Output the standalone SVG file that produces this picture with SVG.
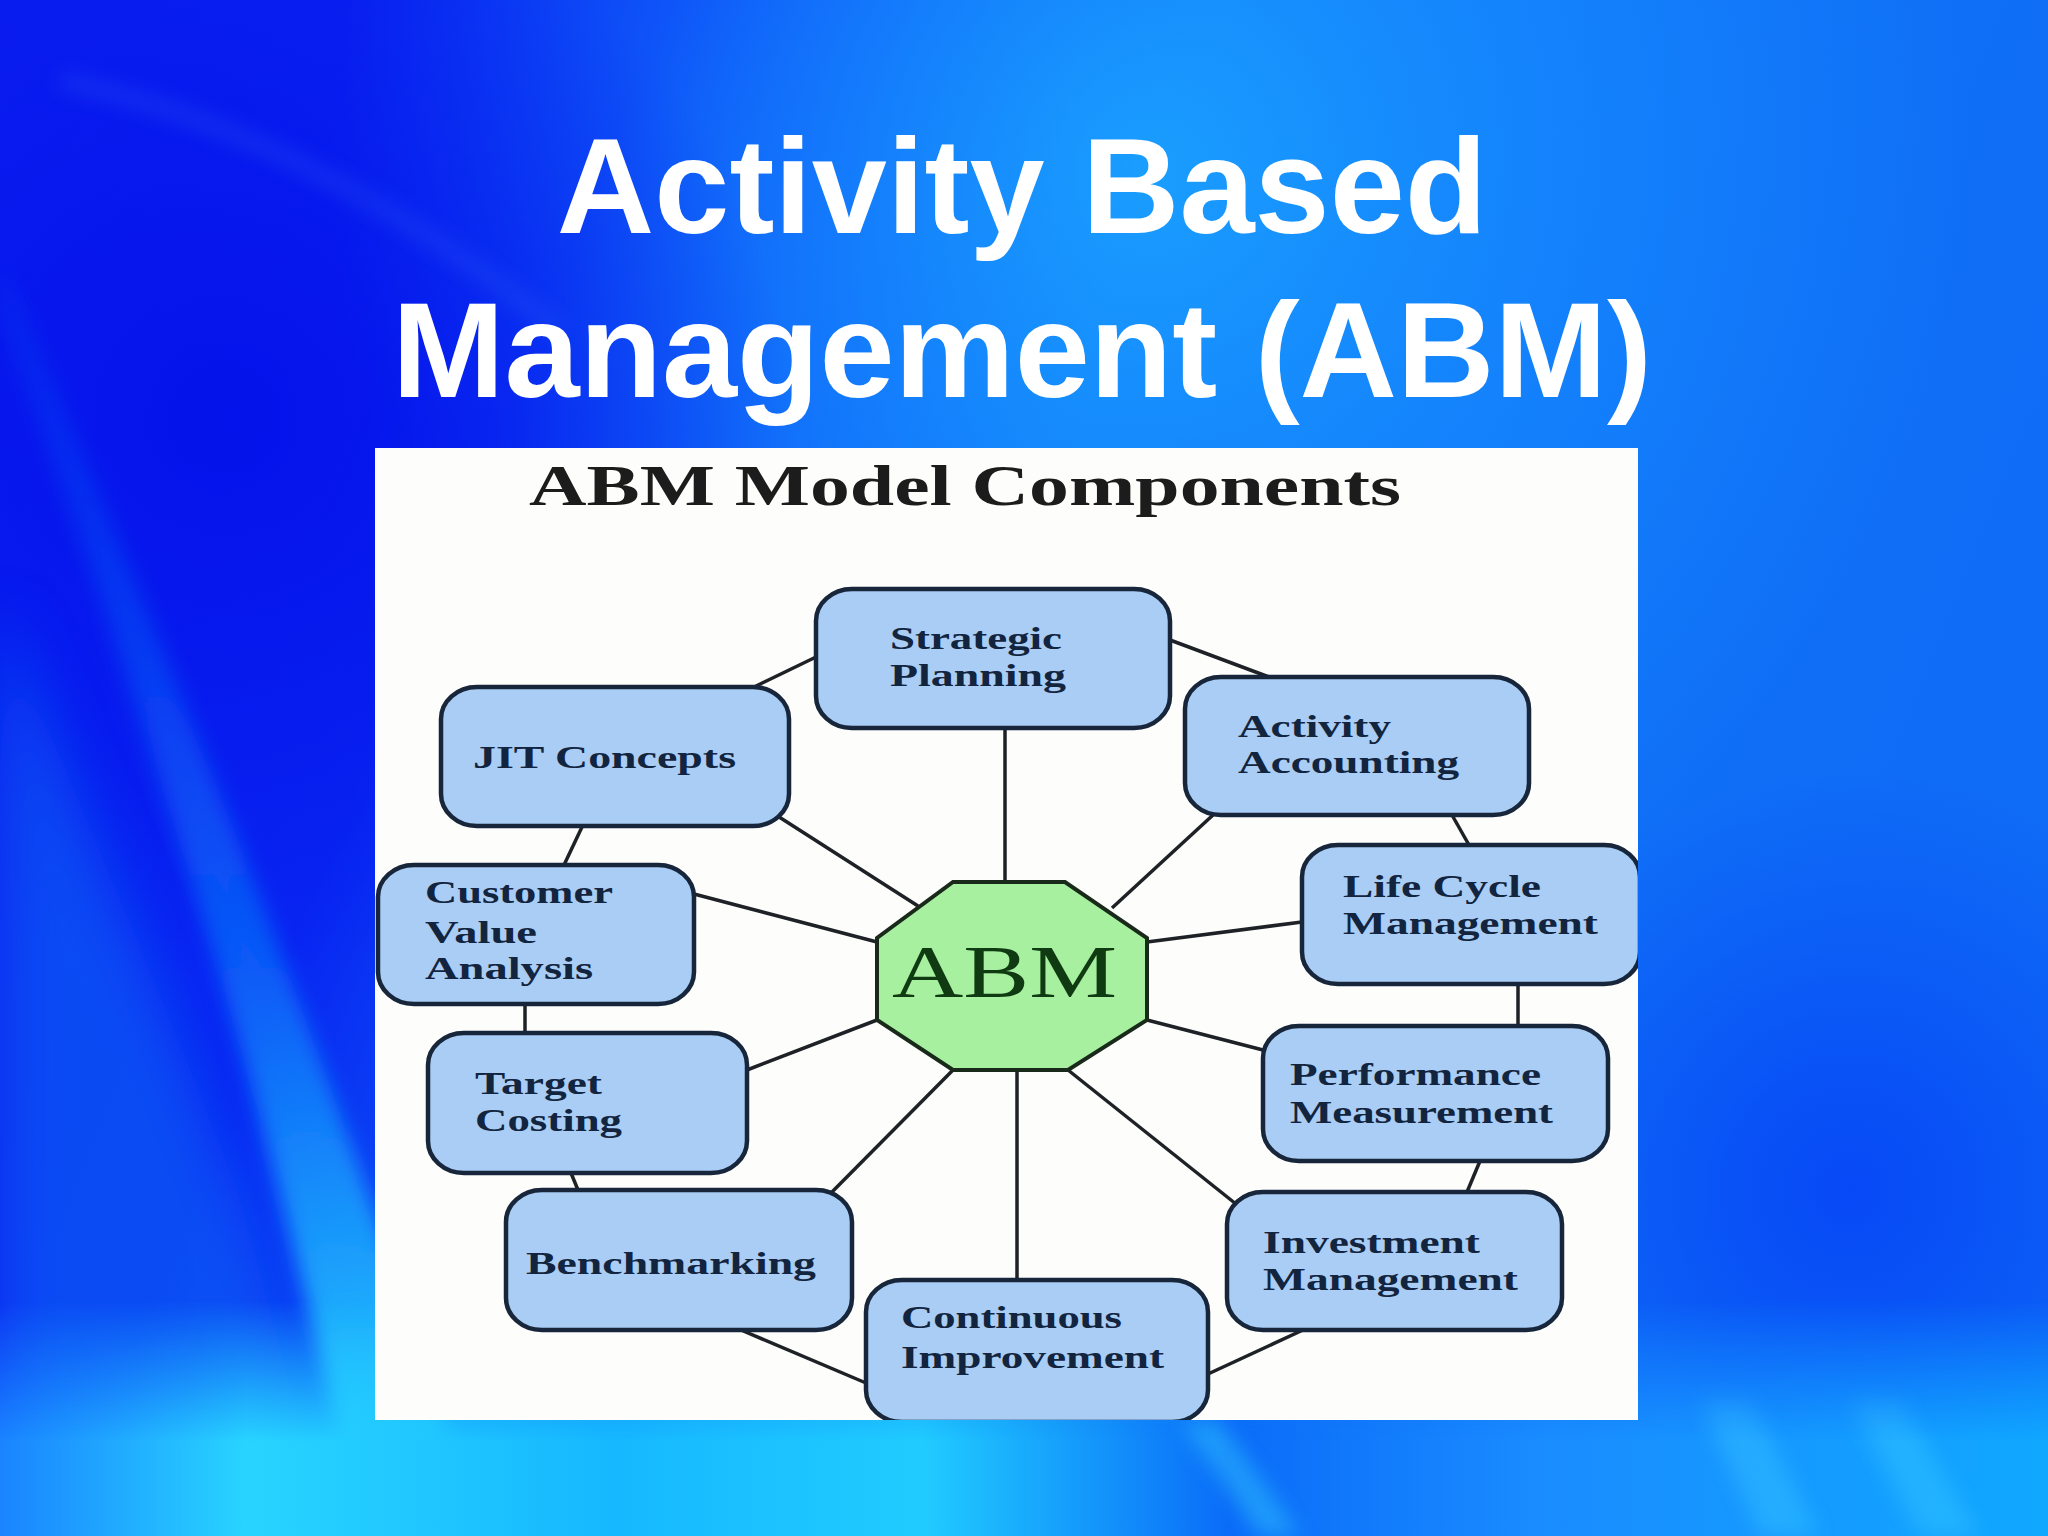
<svg xmlns="http://www.w3.org/2000/svg" width="2048" height="1536" viewBox="0 0 2048 1536">
<defs>
  <linearGradient id="bgBase" x1="0" y1="0" x2="1" y2="0.3">
    <stop offset="0" stop-color="#0a1ef0"/>
    <stop offset="0.3" stop-color="#0826f2"/>
    <stop offset="0.55" stop-color="#1178f8"/>
    <stop offset="1" stop-color="#0f6cf6"/>
  </linearGradient>
  <radialGradient id="glowTop" cx="1150" cy="170" r="820" gradientUnits="userSpaceOnUse">
    <stop offset="0" stop-color="#1aa0ff" stop-opacity="0.95"/>
    <stop offset="0.5" stop-color="#168cff" stop-opacity="0.6"/>
    <stop offset="1" stop-color="#168cff" stop-opacity="0"/>
  </radialGradient>
  <radialGradient id="darkLeft" cx="230" cy="420" r="560" gradientUnits="userSpaceOnUse">
    <stop offset="0" stop-color="#0410ea" stop-opacity="0.9"/>
    <stop offset="1" stop-color="#0410ea" stop-opacity="0"/>
  </radialGradient>
  <radialGradient id="darkRightLow" cx="1850" cy="1190" r="420" gradientUnits="userSpaceOnUse">
    <stop offset="0" stop-color="#0540f6" stop-opacity="0.8"/>
    <stop offset="1" stop-color="#0540f6" stop-opacity="0"/>
  </radialGradient>
  <linearGradient id="streak" x1="0" y1="0" x2="0" y2="1">
    <stop offset="0" stop-color="#1a7cf8" stop-opacity="0.1"/>
    <stop offset="0.55" stop-color="#10a8ff" stop-opacity="0.4"/>
    <stop offset="1" stop-color="#30e8ff" stop-opacity="0.95"/>
  </linearGradient>
  <linearGradient id="bottomBand" x1="0" y1="0" x2="1" y2="0">
    <stop offset="0" stop-color="#1a84ff"/>
    <stop offset="0.12" stop-color="#28d4ff"/>
    <stop offset="0.3" stop-color="#16b8ff"/>
    <stop offset="0.45" stop-color="#20ccff"/>
    <stop offset="0.6" stop-color="#0a6cf8"/>
    <stop offset="0.75" stop-color="#1a8cff"/>
    <stop offset="1" stop-color="#10a8ff"/>
  </linearGradient>
  <linearGradient id="fadeV" x1="0" y1="0" x2="0" y2="1">
    <stop offset="0" stop-color="#fff" stop-opacity="0"/>
    <stop offset="0.6" stop-color="#fff" stop-opacity="1"/>
    <stop offset="1" stop-color="#fff" stop-opacity="1"/>
  </linearGradient>
  <mask id="fadeBottom" maskUnits="userSpaceOnUse" x="0" y="0" width="2048" height="1536">
    <rect x="0" y="1300" width="2048" height="236" fill="url(#fadeV)"/>
  </mask>
  <filter id="blur" x="-20%" y="-20%" width="140%" height="140%">
    <feGaussianBlur stdDeviation="28"/>
  </filter>
  <filter id="blurS" x="-20%" y="-20%" width="140%" height="140%">
    <feGaussianBlur stdDeviation="10"/>
  </filter>
  <clipPath id="panelClip">
    <rect x="375" y="448" width="1263" height="972"/>
  </clipPath>
  <style>
    .title { font-family: "Liberation Sans", Arial, sans-serif; font-weight: bold; font-size: 135px; fill: #ffffff; text-anchor: middle; }
    .node rect { fill: #a9cdf4; stroke: #17263a; stroke-width: 4.5; }
    .lbl { font-family: "Liberation Serif", "Times New Roman", serif; font-weight: bold; font-size: 31px; fill: #12243e; }
    .conn line { stroke: #1e2226; stroke-width: 3.5; }
  </style>
</defs>

<!-- background -->
<g id="background">
  <rect x="0" y="0" width="2048" height="1536" fill="url(#bgBase)"/>
  <rect x="0" y="0" width="2048" height="1536" fill="url(#glowTop)"/>
  <rect x="0" y="0" width="2048" height="1536" fill="url(#darkLeft)"/>
  <rect x="0" y="0" width="2048" height="1536" fill="url(#darkRightLow)"/>
  <path d="M0,600 C80,820 160,980 240,1200 L330,1536 L0,1536 Z" fill="#0c6af6" opacity="0.55" filter="url(#blur)"/>
  <path d="M0,260 L0,310 C140,700 270,1100 360,1536 L480,1536 C380,1200 200,720 0,260 Z" fill="url(#streak)" filter="url(#blurS)"/>
  <path d="M60,80 C250,120 420,220 560,330" stroke="#3a6cf8" stroke-width="16" fill="none" opacity="0.25" filter="url(#blurS)"/>
  <g mask="url(#fadeBottom)">
    <rect x="0" y="1300" width="2048" height="236" fill="url(#bottomBand)"/>
    <g opacity="0.35" filter="url(#blurS)">
      <path d="M1180,1420 L1260,1536 L1300,1536 L1220,1420 Z" fill="#40e8ff"/>
      <path d="M1700,1400 L1760,1536 L1820,1536 L1750,1400 Z" fill="#40d0ff"/>
      <path d="M1850,1400 L1920,1536 L1980,1536 L1900,1400 Z" fill="#40d0ff"/>
    </g>
  </g>
</g>

<!-- title -->
<g id="title">
  <text class="title" x="1022" y="233">Activity Based</text>
  <text class="title" x="1022" y="397">Management (ABM)</text>
</g>

<!-- diagram panel -->
<rect id="panel" x="375" y="448" width="1263" height="972" fill="#fdfdfb"/>

<g clip-path="url(#panelClip)">
  <text id="panel-title" x="529" y="505" textLength="872" lengthAdjust="spacingAndGlyphs" font-family="Liberation Serif, 'Times New Roman', serif" font-weight="bold" font-size="56" fill="#1c1c1c">ABM Model Components</text>

  <g id="connectors" class="conn">
    <line x1="754" y1="687" x2="816" y2="657"/>
    <line x1="1170" y1="640" x2="1269" y2="677"/>
    <line x1="1005" y1="728" x2="1005" y2="882"/>
    <line x1="582" y1="827" x2="564" y2="865"/>
    <line x1="776" y1="815" x2="918" y2="906"/>
    <line x1="1213" y1="815" x2="1112" y2="908"/>
    <line x1="1452" y1="815" x2="1469" y2="845"/>
    <line x1="1302" y1="922" x2="1147" y2="942"/>
    <line x1="1518" y1="984" x2="1518" y2="1026"/>
    <line x1="694" y1="894" x2="877" y2="942"/>
    <line x1="525" y1="1004" x2="525" y2="1033"/>
    <line x1="747" y1="1070" x2="877" y2="1020"/>
    <line x1="1263" y1="1050" x2="1147" y2="1020"/>
    <line x1="1480" y1="1161" x2="1467" y2="1192"/>
    <line x1="571" y1="1173" x2="578" y2="1190"/>
    <line x1="830" y1="1194" x2="953" y2="1070"/>
    <line x1="1236" y1="1204" x2="1068" y2="1070"/>
    <line x1="741" y1="1330" x2="866" y2="1383"/>
    <line x1="1303" y1="1330" x2="1208" y2="1374"/>
    <line x1="1017" y1="1070" x2="1017" y2="1280"/>
  </g>

  <g id="node-abm">
    <polygon points="953,882 1065,882 1147,938 1147,1020 1068,1070 953,1070 877,1020 877,938" fill="#a6f0a0" stroke="#1a2a1a" stroke-width="4"/>
    <text x="892" y="997" textLength="225" lengthAdjust="spacingAndGlyphs" font-family="Liberation Serif, 'Times New Roman', serif" font-size="74" fill="#103a12">ABM</text>
  </g>

  <g id="node-strategic" class="node">
    <rect x="816" y="589" width="354" height="139" rx="36" ry="32"/>
    <text class="lbl" x="890" y="649" textLength="172" lengthAdjust="spacingAndGlyphs">Strategic</text>
    <text class="lbl" x="890" y="686" textLength="176" lengthAdjust="spacingAndGlyphs">Planning</text>
  </g>

  <g id="node-jit" class="node">
    <rect x="441" y="687" width="348" height="139" rx="36" ry="32"/>
    <text class="lbl" x="473" y="768" textLength="263" lengthAdjust="spacingAndGlyphs">JIT Concepts</text>
  </g>

  <g id="node-activity" class="node">
    <rect x="1185" y="677" width="344" height="138" rx="36" ry="32"/>
    <text class="lbl" x="1238" y="737" textLength="153" lengthAdjust="spacingAndGlyphs">Activity</text>
    <text class="lbl" x="1238" y="773" textLength="221" lengthAdjust="spacingAndGlyphs">Accounting</text>
  </g>

  <g id="node-lifecycle" class="node">
    <rect x="1302" y="845" width="338" height="139" rx="36" ry="32"/>
    <text class="lbl" x="1343" y="897" textLength="198" lengthAdjust="spacingAndGlyphs">Life Cycle</text>
    <text class="lbl" x="1343" y="934" textLength="255" lengthAdjust="spacingAndGlyphs">Management</text>
  </g>

  <g id="node-customer" class="node">
    <rect x="378" y="865" width="316" height="139" rx="36" ry="32"/>
    <text class="lbl" x="425" y="903" textLength="188" lengthAdjust="spacingAndGlyphs">Customer</text>
    <text class="lbl" x="425" y="943" textLength="112" lengthAdjust="spacingAndGlyphs">Value</text>
    <text class="lbl" x="425" y="979" textLength="168" lengthAdjust="spacingAndGlyphs">Analysis</text>
  </g>

  <g id="node-performance" class="node">
    <rect x="1263" y="1026" width="345" height="135" rx="36" ry="32"/>
    <text class="lbl" x="1290" y="1085" textLength="251" lengthAdjust="spacingAndGlyphs">Performance</text>
    <text class="lbl" x="1290" y="1123" textLength="263" lengthAdjust="spacingAndGlyphs">Measurement</text>
  </g>

  <g id="node-target" class="node">
    <rect x="428" y="1033" width="319" height="140" rx="36" ry="32"/>
    <text class="lbl" x="475" y="1094" textLength="127" lengthAdjust="spacingAndGlyphs">Target</text>
    <text class="lbl" x="475" y="1131" textLength="147" lengthAdjust="spacingAndGlyphs">Costing</text>
  </g>

  <g id="node-investment" class="node">
    <rect x="1227" y="1192" width="335" height="138" rx="36" ry="32"/>
    <text class="lbl" x="1263" y="1253" textLength="217" lengthAdjust="spacingAndGlyphs">Investment</text>
    <text class="lbl" x="1263" y="1290" textLength="255" lengthAdjust="spacingAndGlyphs">Management</text>
  </g>

  <g id="node-benchmarking" class="node">
    <rect x="506" y="1190" width="346" height="140" rx="36" ry="32"/>
    <text class="lbl" x="526" y="1274" textLength="290" lengthAdjust="spacingAndGlyphs">Benchmarking</text>
  </g>

  <g id="node-continuous" class="node">
    <rect x="866" y="1280" width="342" height="142" rx="36" ry="32"/>
    <text class="lbl" x="901" y="1328" textLength="221" lengthAdjust="spacingAndGlyphs">Continuous</text>
    <text class="lbl" x="901" y="1368" textLength="263" lengthAdjust="spacingAndGlyphs">Improvement</text>
  </g>
</g>
</svg>
